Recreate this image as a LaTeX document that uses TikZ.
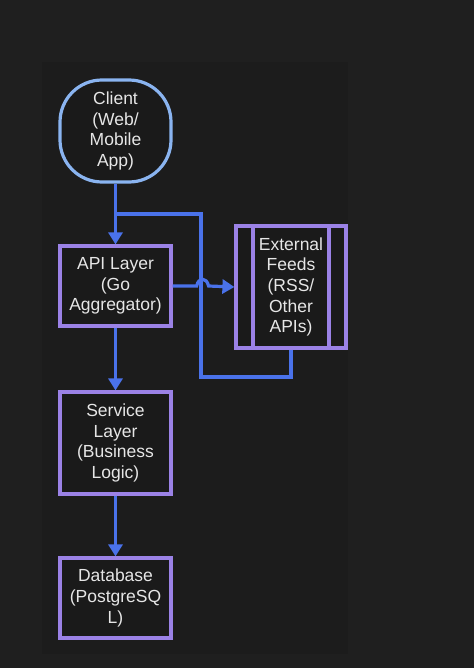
\documentclass[tikz,border=0pt]{standalone}
\usepackage{fontspec}
\setmainfont{Liberation Sans}
\usetikzlibrary{arrows.meta}

\definecolor{bgdark}{HTML}{1F1F1F}
\definecolor{panel}{HTML}{1C1C1C}
\definecolor{boxfill}{HTML}{1A1A1A}
\definecolor{clientline}{HTML}{8AB4F0}
\definecolor{boxline}{HTML}{9B82E6}
\definecolor{flowblue}{HTML}{4A72EA}
\definecolor{textgray}{HTML}{E6E6E6}

\tikzset{
  layer/.style={draw=boxline, line width=3.2pt, fill=boxfill, text=textgray,
    minimum width=111pt, align=center, inner sep=0pt,
    font=\fontsize{17.5}{20.6}\selectfont},
  terminal/.style={layer, draw=clientline, rounded corners=42pt},
  subroutine/.style={layer, path picture={
    \draw[boxline, line width=3.2pt]
      ([xshift=17pt]path picture bounding box.north west) -- ([xshift=17pt]path picture bounding box.south west)
      ([xshift=-17pt]path picture bounding box.north east) -- ([xshift=-17pt]path picture bounding box.south east);}},
  flow/.style={draw=flowblue, line width=3.2pt, -{Triangle[length=12pt,width=14pt]}},
  link/.style={draw=flowblue, line width=3.2pt}
}

\begin{document}
\begin{tikzpicture}[x=1pt,y=-1pt]
	\useasboundingbox[fill=bgdark] (0,0) rectangle (474,668);
	\fill[panel] (42,62) rectangle (348,654);

	\node[terminal, minimum height=102pt] (client) at (115.5,131) {Client\\(Web/\\Mobile\\App)};
	\node[layer, minimum height=80pt] (api) at (115.5,286) {API Layer\\(Go\\Aggregator)};
	\node[subroutine, minimum width=110pt, minimum height=122pt] (ext) at (291,287) {External\\Feeds\\(RSS/\\Other\\APIs)};
	\node[layer, minimum height=102pt] (service) at (115.5,443) {Service\\Layer\\(Business\\Logic)};
	\node[layer, minimum height=80pt] (db) at (115.5,598) {Database\\(PostgreSQ\\L)};

	\coordinate (loop) at (201,214);

	% main chain
	\draw[flow] (client) -- (api);
	\draw[flow] (api) -- (service);
	\draw[flow] (service) -- (db);
	% call out, with a jump over the return line
	\draw[flow] (api.east) -- ++(24,0) .. controls +(2,-9) and +(-2,-9) .. ++(12,0) -- (ext.west);
	% return from the feeds
	\draw[link] (ext.south) |- (loop |- 0,377) -- (loop) -- (client.south |- loop);
\end{tikzpicture}
\end{document}
